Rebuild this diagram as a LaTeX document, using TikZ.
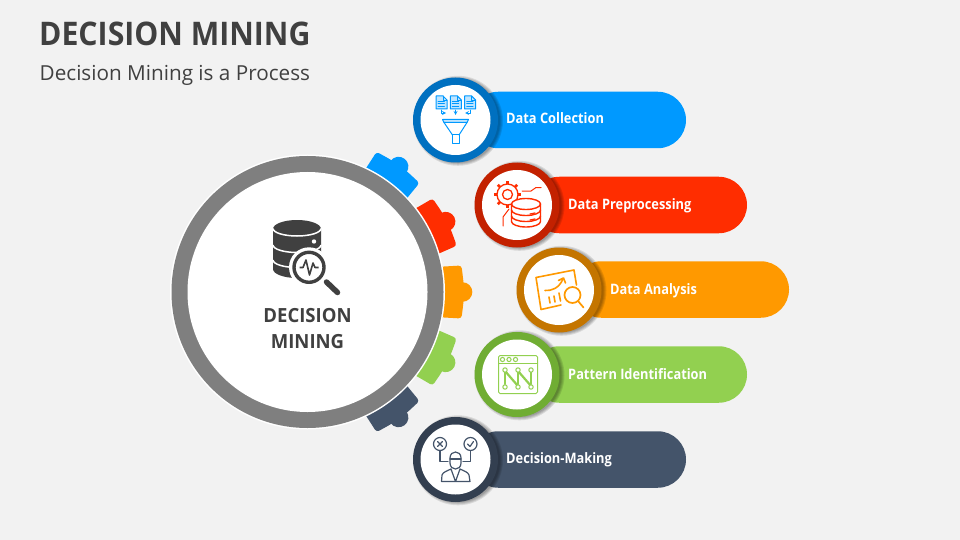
\documentclass[tikz,border=0pt]{standalone}
\usepackage{fontspec}
\setmainfont{Open Sans}
\newfontfamily\ftitle{Open Sans}[FakeStretch=0.93]
\newfontfamily\flabel{Open Sans}[FakeStretch=0.89]
\newfontfamily\fhub{Open Sans}[FakeStretch=0.95]
\usetikzlibrary{shapes.misc}
\definecolor{bg}{HTML}{F2F2F2}
\definecolor{ink}{HTML}{404040}
\definecolor{ringgrey}{HTML}{7F7F7F}
\definecolor{cblue}{HTML}{0099FF}\definecolor{dblue}{HTML}{0070C0}\definecolor{lblue}{HTML}{BFE5FF}
\definecolor{cred}{HTML}{FF2D00}\definecolor{dred}{HTML}{C32100}
\definecolor{corange}{HTML}{FF9900}\definecolor{dorange}{HTML}{C47500}
\definecolor{cgreen}{HTML}{92D050}\definecolor{dgreen}{HTML}{70AD33}
\definecolor{cnavy}{HTML}{44546A}\definecolor{dnavy}{HTML}{333F50}
\tikzset{
  pill/.style={rounded rectangle,draw=none,fill=#1,minimum height=56.5pt,inner sep=0pt,outer sep=0pt},
  badge/.style={circle,draw=none,fill=white,minimum size=70pt,inner sep=0pt,outer sep=0pt},
  lab/.style={anchor=base west,inner sep=0pt,text=white,font=\flabel\fontsize{14.4}{16}\selectfont\bfseries},
  ico/.style={line width=1pt,line cap=round,line join=round},
}
\newcommand{\softshadow}[3]{%
  \foreach \rr in {1,2,3,4}{\fill[black,opacity=0.1] (#1+2.5,#2+0.8) circle ({#3+\rr-1.5});}}
\newcommand{\tabshape}[2]{%
  \begin{scope}[shift={(307.5,292)},rotate=#1]
    \fill[#2,rounded corners=3pt] (128,-25)--(154,-26.5)--(156,-10)--(156,10)--(154,26.5)--(128,25)--cycle;
    \fill[#2] (155,0) circle (9.8);
  \end{scope}}
\begin{document}
\begin{tikzpicture}[x=1pt,y=-1pt]
\useasboundingbox (0,0) rectangle (960,540);
\fill[bg] (0,0) rectangle (960,540);
\node[anchor=base west,inner sep=0pt,text=ink,font=\ftitle\fontsize{32.5}{36}\selectfont\bfseries] (title) at (39,46) {DECISION MINING};
\node[anchor=base west,inner sep=0pt,text=ink,font=\fontsize{20.7}{24}\selectfont] (subtitle) at (39.5,80.5) {Decision Mining is a Process};
% gear tabs
\tabshape{54}{cblue}
\tabshape{27}{cred}
\tabshape{0}{corange}
\tabshape{-27}{cgreen}
\tabshape{-54}{cnavy}
% hub
\node[circle,fill=white,minimum size=275pt,inner sep=0pt] (hubhalo) at (307.5,292) {};
\node[circle,fill=ringgrey,minimum size=272pt,inner sep=0pt] (hubring) at (307.5,292) {};
\node[circle,fill=white,minimum size=240pt,inner sep=0pt] (hub) at (307.5,292) {};
% hub icon: database
\fill[ink] (273,229) arc[start angle=180,end angle=360,x radius=24,y radius=9]
  -- (321,269) arc[start angle=0,end angle=180,x radius=24,y radius=9] -- cycle;
\draw[white,line width=1.5pt] (273,228.5) arc[start angle=180,end angle=0,x radius=24,y radius=7.5];
\draw[white,line width=1.5pt] (273,245) arc[start angle=180,end angle=0,x radius=24,y radius=7.5];
\draw[white,line width=1.5pt] (273,260) arc[start angle=180,end angle=0,x radius=24,y radius=7.5];
\fill[white] (314,241.5) circle (2.2);
\fill[white] (309,267.3) circle (20);
\draw[ink,line width=3.4pt] (309,267.3) circle (15);
\draw[ink,line width=5.5pt,line cap=round] (326.5,282) -- (337.5,292.5);
\draw[ink,line width=1.6pt,line join=round] (299.5,267.5) -- (303,267.5) -- (306,260) -- (309.5,275) -- (313,263) -- (315,267.5) -- (318.5,267.5);
\node[align=center,inner sep=0pt,text=ink,font=\fhub\fontsize{19.5}{26}\selectfont\bfseries] (hubtext) at (307.5,329) {DECISION\\MINING};
% pills
\node[pill=cblue,minimum width=216pt] (p1) at (578,120) {};
\node[pill=cred,minimum width=216pt] (p2) at (639,205) {};
\node[pill=corange,minimum width=216pt] (p3) at (681,289.5) {};
\node[pill=cgreen,minimum width=216pt] (p4) at (639,374.5) {};
\node[pill=cnavy,minimum width=216pt] (p5) at (578,459.5) {};
\node[lab] (l1) at (506,124) {Data Collection};
\node[lab] (l2) at (568,209) {Data Preprocessing};
\node[lab] (l3) at (610,294) {Data Analysis};
\node[lab] (l4) at (568,379) {Pattern Identification};
\node[lab] (l5) at (506,463) {Decision-Making};
% badges
\softshadow{455.5}{120}{42.5}
\node[circle,fill=dblue,minimum size=85pt,inner sep=0pt] (r1) at (455.5,120) {};
\node[badge] (b1) at (455.5,120) {};
\softshadow{517}{205}{42.5}
\node[circle,fill=dred,minimum size=85pt,inner sep=0pt] (r2) at (517,205) {};
\node[badge] (b2) at (517,205) {};
\softshadow{559}{290}{42.5}
\node[circle,fill=dorange,minimum size=85pt,inner sep=0pt] (r3) at (559,290) {};
\node[badge] (b3) at (559,290) {};
\softshadow{517}{374.5}{42.5}
\node[circle,fill=dgreen,minimum size=85pt,inner sep=0pt] (r4) at (517,374.5) {};
\node[badge] (b4) at (517,374.5) {};
\softshadow{455.5}{459.5}{42.5}
\node[circle,fill=dnavy,minimum size=85pt,inner sep=0pt] (r5) at (455.5,459.5) {};
\node[badge] (b5) at (455.5,459.5) {};
% icon 1: funnel and documents
\begin{scope}[ico,draw=cblue]
\foreach \dx in {0,14.3,28.6}{
  \begin{scope}[shift={(\dx,0)}]
  \filldraw[fill=lblue] (436,96) -- (443,96) -- (447,100) -- (447,109) -- (436,109) -- cycle;
  \draw[line width=.7pt] (443,96) -- (443,100) -- (447,100);
  \draw[line width=.7pt] (438,101) -- (444.5,101) (438,103.5) -- (444.5,103.5) (438,106) -- (444.5,106);
  \end{scope}}
\draw[line width=.8pt,-stealth] (441,110) -- (441,113) -- (446,113);
\draw[line width=.8pt,-stealth] (455.5,110) -- (455.5,115);
\draw[line width=.8pt,-stealth] (470,110) -- (470,113) -- (465,113);
\filldraw[fill=lblue] (442.5,119.5) -- (468.5,119.5) -- (467,122.5) -- (444,122.5) -- cycle;
\draw (444,122.5) -- (452.5,135) (467,122.5) -- (459,135);
\draw (452.5,135) rectangle (459,143.5);
\end{scope}
% icon 2: gear and database
\begin{scope}[ico,draw=cred]
\foreach \a in {0,45,...,315}{\draw[line width=2.6pt,line cap=butt] (507.5,194.5) ++(\a:10.5) -- ++(\a:3.2);}
\draw[fill=white,line width=1.3pt] (507.5,194.5) circle (10.5);
\draw[line width=1.3pt] (507.5,194.5) circle (5);
\draw[line width=1pt] (522,191) -- (531,191) -- (536,187.5) -- (541,187.5);
\draw[line width=1pt] (509,209) -- (503,217) -- (503,226);
\filldraw[fill=white,line width=1.4pt] (511.5,204) arc[start angle=180,end angle=360,x radius=14.5,y radius=5.5] -- (540.5,221.5)
  arc[start angle=0,end angle=180,x radius=14.5,y radius=5.5] -- cycle;
\draw[line width=1.4pt] (511.5,204) arc[start angle=180,end angle=0,x radius=14.5,y radius=5.5];
\draw[line width=1.4pt] (511.5,210) arc[start angle=180,end angle=0,x radius=14.5,y radius=5.5];
\draw[line width=1.4pt] (511.5,216) arc[start angle=180,end angle=0,x radius=14.5,y radius=5.5];
\draw[line width=1.2pt] (530,214) -- (535,213) (530,220) -- (535,219);
\end{scope}
% icon 3: chart and magnifier
\begin{scope}[ico,draw=corange,line width=1.6pt]
\draw (561,305) -- (541,309.5) -- (536,277.5) -- (574,270) -- (576.5,285);
\draw (545,290.5) .. controls (552,291) and (559,288) .. (563,279);
\draw (558.5,280.5) -- (563.5,278) -- (565.5,283);
\draw (549,297) -- (550,303) (554,296) -- (555,302) (559,293) -- (560.5,301);
\draw[line width=1.7pt] (572.5,295) circle (8);
\draw[line width=1.7pt] (578,301) -- (583.5,307.5);
\end{scope}
% icon 4: window and nodes
\begin{scope}[ico,draw=cgreen]
\draw[rounded corners=1.5pt] (498.5,355.5) rectangle (537.5,393.5);
\draw (498.5,363.5) -- (537.5,363.5);
\foreach \x in {502.5,509,515.5}{\draw (\x,359.5) circle (2.1);}
\foreach \x in {505,518,531}{\draw[line width=2.2pt] (\x,372.5) -- (\x,384);}
\draw[line width=2.2pt] (505,371) -- (518,386) (518,371) -- (531,386);
\foreach \x in {505,518,531}{\filldraw[fill=white] (\x,370) circle (2.2); \filldraw[fill=white] (\x,387) circle (2.2);}
\end{scope}
% icon 5: decision maker
\begin{scope}[ico,draw=cnavy,line width=1.2pt]
\draw (440,444) circle (6.5);
\draw (470.5,444) circle (6.5);
\draw (437.5,441.5) -- (442.5,446.5) (442.5,441.5) -- (437.5,446.5);
\draw (467.5,444) -- (470,446.5) -- (473.5,441.5);
\draw (440,450.5) -- (440,461.5) -- (448,461.5);
\draw (470.5,450.5) -- (470.5,461.5) -- (463,461.5);
\draw (450,458) .. controls (450,450) and (461,450) .. (461,458) -- (461,463)
  .. controls (461,471) and (450,471) .. (450,463) -- cycle;
\draw (450,459) -- (461,459);
\draw (441.5,481.5) -- (442,475) .. controls (443,472) and (447,471) .. (451,469)
  -- (455.5,481.5) -- (460,469) .. controls (464,471) and (468,472) .. (469,475) -- (470,481.5) -- cycle;
\end{scope}
\end{tikzpicture}
\end{document}
